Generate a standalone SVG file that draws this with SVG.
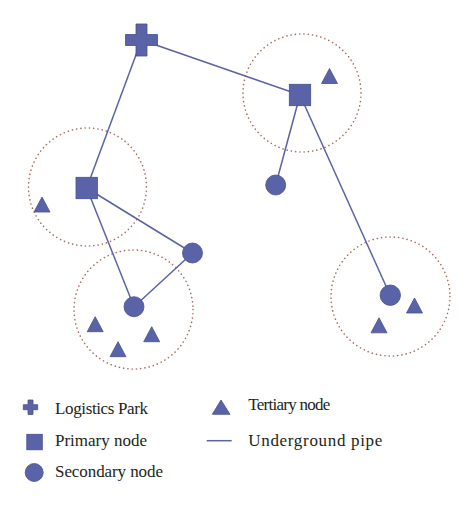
<svg xmlns="http://www.w3.org/2000/svg" width="474" height="505" viewBox="0 0 474 505">
<defs>
<style>
.shape{fill:#5a63a8;stroke:#46508f;stroke-width:0.8}
.pipe{stroke:#5a63a3;stroke-width:1.5;fill:none}
.zone{fill:none;stroke:#a8705c;stroke-width:1.6;stroke-dasharray:0.1 4.2;stroke-linecap:round}
.lbl{font-family:"Liberation Serif","Times New Roman",serif;font-size:17px;fill:#231f20}
</style>
<path id="tri" d="M0,-7.5 L8,7.5 L-8,7.5 Z"/>
</defs>
<rect width="474" height="505" fill="#ffffff"/>
<g id="zones">
<circle class="zone" cx="302" cy="93" r="59"/>
<circle class="zone" cx="87.5" cy="187" r="59"/>
<circle class="zone" cx="133.5" cy="309.5" r="59.5"/>
<circle class="zone" cx="390.5" cy="296.5" r="59.5"/>
</g>
<g id="connectors">
<line class="pipe" x1="141.5" y1="40" x2="300" y2="95"/>
<line class="pipe" x1="141.5" y1="40" x2="86.7" y2="188"/>
<line class="pipe" x1="86.7" y1="188" x2="134" y2="306.7"/>
<line class="pipe" x1="86.7" y1="188" x2="192.5" y2="253"/>
<line class="pipe" x1="192.5" y1="253" x2="134" y2="306.7"/>
<line class="pipe" x1="300" y1="95" x2="275.7" y2="185"/>
<line class="pipe" x1="300" y1="95" x2="390" y2="295"/>
</g>
<g id="logistics-park">
<path class="shape" d="M136,24 h11 v10.5 h10.5 v11 h-10.5 v10.5 h-11 v-10.5 h-10.5 v-11 h10.5 Z"/>
</g>
<g id="primary-1"><rect class="shape" x="289.3" y="84.3" width="21.4" height="21.4"/></g>
<g id="primary-2"><rect class="shape" x="76" y="177.3" width="21.4" height="21.4"/></g>
<g id="secondary-1"><circle class="shape" cx="275.7" cy="185" r="10"/></g>
<g id="secondary-2"><circle class="shape" cx="192.5" cy="253" r="10"/></g>
<g id="secondary-3"><circle class="shape" cx="134" cy="306.7" r="10"/></g>
<g id="secondary-4"><circle class="shape" cx="390.3" cy="295.2" r="10.2"/></g>
<g id="tertiary-1"><use href="#tri" class="shape" x="329.5" y="76"/></g>
<g id="tertiary-2"><use href="#tri" class="shape" x="42" y="204.5"/></g>
<g id="tertiary-3"><use href="#tri" class="shape" x="95.2" y="324.2"/></g>
<g id="tertiary-4"><use href="#tri" class="shape" x="151.7" y="334.2"/></g>
<g id="tertiary-5"><use href="#tri" class="shape" x="118" y="349.2"/></g>
<g id="tertiary-6"><use href="#tri" class="shape" x="414.5" y="305.5"/></g>
<g id="tertiary-7"><use href="#tri" class="shape" x="379" y="325.3"/></g>
<g id="legend">
<path class="shape" d="M28,400 h5 v4.7 h4.7 v5 h-4.7 v4.7 h-5 v-4.7 h-4.7 v-5 h4.7 Z"/>
<text class="lbl" x="55" y="413.5" textLength="93" lengthAdjust="spacing">Logistics Park</text>
<rect class="shape" x="26.8" y="434.3" width="15.5" height="15.5"/>
<text class="lbl" x="55" y="445.5" textLength="92" lengthAdjust="spacing">Primary node</text>
<circle class="shape" cx="34.2" cy="472.5" r="9"/>
<text class="lbl" x="55" y="477" textLength="108" lengthAdjust="spacing">Secondary node</text>
<path class="shape" d="M221,400 L230,414.3 L212.3,414.3 Z"/>
<text class="lbl" x="248.3" y="409.5" textLength="82" lengthAdjust="spacing">Tertiary node</text>
<line class="pipe" x1="206.7" y1="440.7" x2="231.7" y2="440.7"/>
<text class="lbl" x="248.3" y="446" textLength="134" lengthAdjust="spacing">Underground pipe</text>
</g>
</svg>
